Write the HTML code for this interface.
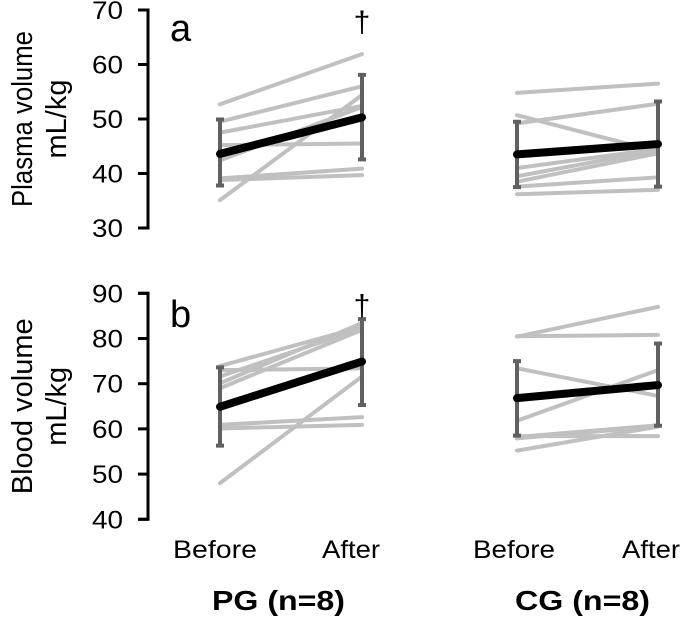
<!DOCTYPE html>
<html><head><meta charset="utf-8"><style>
body{margin:0;background:#fff}
svg{display:block;font-family:"Liberation Sans",Arial,sans-serif}
</style></head><body>
<svg id="chart" width="685" height="623" viewBox="0 0 685 623"></svg>
<script>
// Panel a: plasma volume (mL/kg)
const pgPlasmaBefore=[52.7,49.5,47.5,45.2,42.4,39.1,38.8,35.1];
const pgPlasmaAfter=[61.9,56.0,52.4,45.5,52.2,40.9,39.7,54.4];
const cgPlasmaBefore=[54.8,49.2,50.7,39.5,38.5,37.6,41.0,36.2];
const cgPlasmaAfter=[56.5,52.8,44.0,44.3,43.7,39.3,44.5,37.0];
const plasmaMean=[[43.6,50.3],[43.5,45.4]];
const plasmaErr=[[[37.8,49.9],[42.6,58.1]],[[37.5,49.5],[37.6,53.2]]];
const plasmaTicks=[30,40,50,60,70];
// Panel b: blood volume (mL/kg)
const pgBloodBefore=[73.9,73.0,71.6,70.1,69.0,60.9,60.1,48.0];
const pgBloodAfter=[82.6,73.4,82.3,83.4,81.9,62.6,60.9,71.6];
const cgBloodBefore=[80.4,80.5,73.4,61.8,58.4,57.9,55.2,58.2];
const cgBloodAfter=[87.0,80.8,67.3,73.0,58.4,60.6,60.5,60.8];
const bloodMean=[[64.9,74.9],[66.8,69.7]];
const bloodErr=[[[56.3,73.6],[65.3,84.3]],[[58.5,75.0],[60.7,78.9]]];
const bloodTicks=[40,50,60,70,80,90];

const NS="http://www.w3.org/2000/svg";
const svg=document.getElementById('chart');
function mk(tag,attrs,parent){const e=document.createElementNS(NS,tag);for(const k in attrs)e.setAttribute(k,attrs[k]);(parent||svg).appendChild(e);return e;}
const xPos=[[220,362],[517,658]];
const AX=148;

function panel(name,min,max,yTop,yBot,ticks,groups,means,errs,letter,titles,letterY){
  const y=v=>yBot-(v-min)/(max-min)*(yBot-yTop);
  const g=mk('g',{});
  
  
  const ax=mk('path',{d:`M${AX-10},${y(max)}H${AX}V${y(min)}H${AX-10}`,stroke:'#000','stroke-width':3,fill:'none'},g);
  
  
  ticks.forEach(t=>{
    const tk=mk('line',{x1:AX-10,x2:AX,y1:y(t),y2:y(t),stroke:'#000','stroke-width':3},g);
    
    
    const tl=mk('text',{x:92,y:y(t)+9,'font-size':25,fill:'#000',textLength:31,lengthAdjust:'spacingAndGlyphs'},g);
    tl.textContent=t;
    
    
  });
  const cy=(y(max)+y(min))/2;
  const t1=mk('text',{x:0,y:0,transform:`translate(32,${cy}) rotate(-90)`,'text-anchor':'middle','font-size':29,textLength:176,lengthAdjust:'spacingAndGlyphs'},g);
  t1.textContent=titles[0];
  
  
  const t2=mk('text',{x:0,y:0,transform:`translate(66,${cy}) rotate(-90)`,'text-anchor':'middle','font-size':29},g);
  t2.textContent=titles[1];
  
  
  const lt=mk('text',{x:170,y:letterY,'font-size':38},g);
  lt.textContent=letter;
  
  
  groups.forEach((gr,gi)=>{
    const [bef,aft]=gr;
    bef.forEach((b,i)=>{
      const l=mk('line',{x1:xPos[gi][0],x2:xPos[gi][1],y1:y(b),y2:y(aft[i]),stroke:'#c0c0c0','stroke-width':4,'stroke-linecap':'round'},g);
      
      
    });
    errs[gi].forEach((e,k)=>{
      const x=xPos[gi][k];
      const eb=mk('path',{d:`M${x-4},${y(e[0])}H${x+4}M${x},${y(e[0])}V${y(e[1])}M${x-4},${y(e[1])}H${x+4}`,stroke:'#606060','stroke-width':4,fill:'none'},g);
      
      
    });
    const m=mk('line',{x1:xPos[gi][0],x2:xPos[gi][1],y1:y(means[gi][0]),y2:y(means[gi][1]),stroke:'#000','stroke-width':8,'stroke-linecap':'round'},g);
    
    
  });
  const dg=mk('text',{x:362,y:y(max)+22,'text-anchor':'middle','font-size':30},g);
  dg.textContent='†';
  
  
}
panel('plasma',30,70,10,228,plasmaTicks,[[pgPlasmaBefore,pgPlasmaAfter],[cgPlasmaBefore,cgPlasmaAfter]],plasmaMean,plasmaErr,'a',['Plasma volume','mL/kg'],41);
panel('blood',40,90,293.3,519.3,bloodTicks,[[pgBloodBefore,pgBloodAfter],[cgBloodBefore,cgBloodAfter]],bloodMean,bloodErr,'b',['Blood volume','mL/kg'],327);

const xl=[['Before',173,84],['After',322,58],['Before',473,82],['After',622,58]];
xl.forEach(d=>{
  const t=mk('text',{x:d[1],y:558,'font-size':25,textLength:d[2],lengthAdjust:'spacingAndGlyphs'});
  t.textContent=d[0];
  
  
});
[['PG (n=8)',212,133],['CG (n=8)',515,135]].forEach(d=>{
  const t=mk('text',{x:d[1],y:610,'font-size':28,'font-weight':'bold',textLength:d[2],lengthAdjust:'spacingAndGlyphs'});
  t.textContent=d[0];
  
  
});
</script>
</body></html>
